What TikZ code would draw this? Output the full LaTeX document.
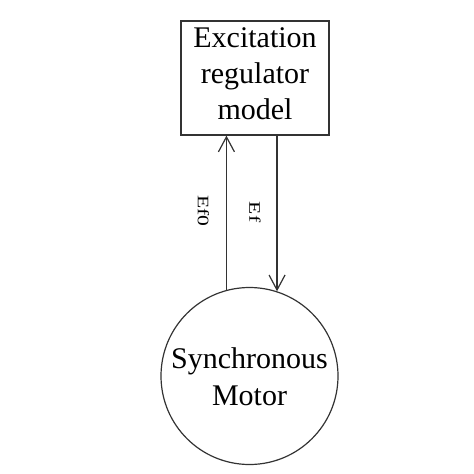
\documentclass[tikz,border=0pt]{standalone}
\usepackage{fontspec}
\usepackage{graphicx}
\setmainfont{Liberation Serif}
\usetikzlibrary{arrows.meta}
\definecolor{linegray}{HTML}{333333}
\begin{document}
\begin{tikzpicture}[x=1pt,y=-1pt,
  big/.style={font=\fontsize{30}{36}\selectfont, align=center, inner sep=0pt},
  bigc/.style={font=\fontsize{30}{37}\selectfont, align=center, inner sep=0pt},
  lbl/.style={font=\fontsize{16}{16}\selectfont, inner sep=0pt, rotate=-90},
  frame/.style={draw=linegray, line width=1.2pt},
  arr/.style={draw=linegray, line width=1.2pt, -{Straight Barb[length=15pt,width=16pt,line width=1.2pt]}}]
\useasboundingbox (0,0) rectangle (474,474);
\node[frame, minimum width=148pt, minimum height=114pt, inner sep=0pt] (box) at (255,78) {};
\node[big] (boxtxt) at (255,73.75) {Excitation\\regulator\\model};
\node[frame, circle, minimum size=177pt, inner sep=0pt] (circ) at (249.5,376) {};
\node[bigc] (circtxt) at (249.5,376.25) {Synchronous\\Motor};
\coordinate (a) at (circ.105.7);
\coordinate (b) at (circ.72.2);
\draw[arr] (a) -- (a |- box.south);
\draw[arr] (b |- box.south) -- (b);
\node[lbl] (lef0) at (203.5,211) {\scalebox{1.35}[1]{Ef0}};
\node[lbl] (lef) at (255,212) {\scalebox{1.35}[1]{Ef}};
\end{tikzpicture}
\end{document}
